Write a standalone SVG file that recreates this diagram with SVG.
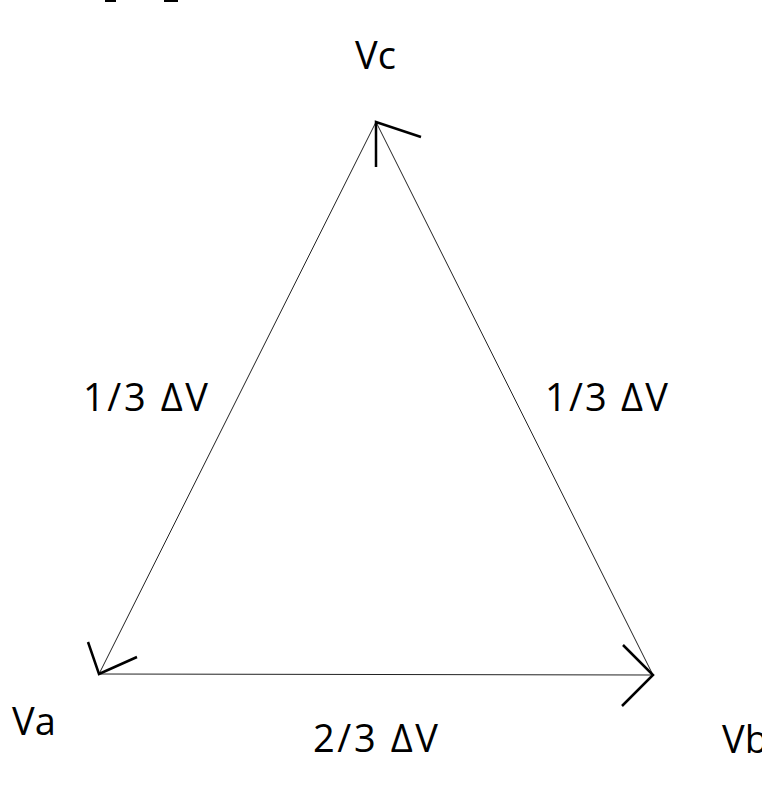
<svg xmlns="http://www.w3.org/2000/svg" width="762" height="787" viewBox="0 0 762 787">
<style>
text{font-family:"Open Sans","Liberation Sans",sans-serif;font-size:38px;fill:#000}
.edge{stroke:#222;stroke-width:1;fill:none}
.head{stroke:#000;stroke-width:2.5;fill:none;stroke-linecap:butt;stroke-linejoin:miter}
.frag{stroke:#000;stroke-width:2}
</style>
<rect width="762" height="787" fill="#fff"/>
<g id="fragments">
<line class="frag" x1="105" y1="1" x2="116" y2="1"/>
<line class="frag" x1="164" y1="1" x2="178" y2="1"/>
</g>
<g id="connectors">
<line class="edge" x1="376" y1="122" x2="99" y2="674"/>
<line class="edge" x1="99" y1="674" x2="653" y2="675"/>
<line class="edge" x1="653" y1="675" x2="376" y2="122"/>
<polyline class="head" points="88,642 99,674 137,657"/>
<polyline class="head" points="623,645 653,675 622,706"/>
<polyline class="head" points="376,167 376,122 421,137"/>
</g>
<g id="node-Vc"><text x="355" y="69">Vc</text></g>
<g id="node-Va"><text x="12" y="735">Va</text></g>
<g id="node-Vb"><text x="722" y="753">Vb</text></g>
<g id="label-ca"><text x="83" y="411" textLength="125" lengthAdjust="spacing">1/3 ΔV</text></g>
<g id="label-bc"><text x="545" y="411" textLength="123" lengthAdjust="spacing">1/3 ΔV</text></g>
<g id="label-ab"><text x="313" y="752" textLength="125" lengthAdjust="spacing">2/3 ΔV</text></g>
</svg>
